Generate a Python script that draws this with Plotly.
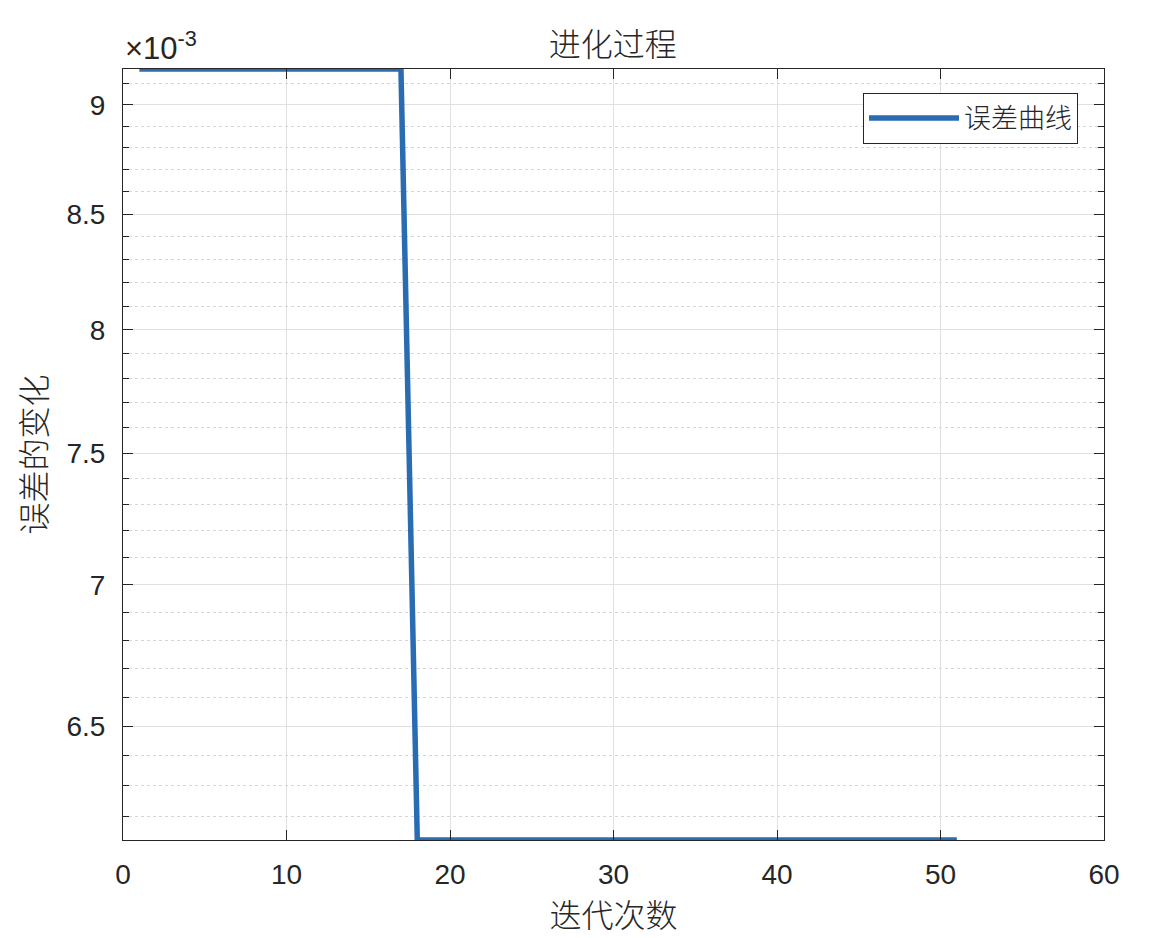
import math
import plotly.graph_objects as go

# iterations 1..51, error value
iterations = list(range(1, 52))
error_high = 9.171e-3   # plateau for iterations 1-17
error_low = 6.124e-3    # plateau for iterations 18-51
errors = [error_high] * 17 + [error_low] * 34

y_major = [6.5e-3, 7e-3, 7.5e-3, 8e-3, 8.5e-3, 9e-3]
y_major_text = ["6.5", "7", "7.5", "8", "8.5", "9"]
y_minor = [v * 1e-4 for v in range(62, 92) if v % 5 != 0]
x_ticks = [0, 10, 20, 30, 40, 50, 60]

cjk = "Noto Sans CJK SC"
num_font = "Liberation Sans, Arial, sans-serif"
txt_col = "#262626"
axis_col = "#262626"
grid_col = "#e0e0e0"

fig = go.Figure()
fig.add_trace(go.Scatter(
    x=iterations, y=errors, mode="lines", name="误差曲线",
    line=dict(color="#2a6cb2", width=5.5), cliponaxis=False,
))

# page body has an 8px margin, so margins are shifted by 8
fig.update_layout(
    width=1154, height=938,
    paper_bgcolor="white", plot_bgcolor="white",
    margin=dict(l=115, r=58, t=61, b=106),
    title=dict(text="进化过程", x=0.524, xanchor="center", y=0.9606, yanchor="middle",
               font=dict(family=cjk, size=32, color=txt_col, weight=300)),
    showlegend=True,
    legend=dict(x=0.9735, y=0.969, xanchor="right", yanchor="top",
                bgcolor="white", bordercolor=axis_col, borderwidth=1,
                font=dict(family=cjk, size=27, color=txt_col, weight=300),
                itemwidth=90, tracegroupgap=0),
)

fig.update_xaxes(
    range=[0, 60], tickvals=x_ticks,
    showline=True, linecolor=axis_col, linewidth=1, mirror="allticks",
    ticks="inside", ticklen=10, tickcolor=axis_col,
    showgrid=True, gridcolor=grid_col, gridwidth=1, zeroline=False,
    tickfont=dict(family=num_font, size=28, color=txt_col),
    ticklabelstandoff=9,
    title=dict(text="迭代次数", font=dict(family=cjk, size=32, color=txt_col, weight=300),
               standoff=12),
)

fig.update_yaxes(
    type="log",
    range=[math.log10(error_low), math.log10(error_high)],
    tickmode="array", tickvals=y_major, ticktext=y_major_text,
    showline=True, linecolor=axis_col, linewidth=1, mirror="allticks",
    ticks="inside", ticklen=10, tickcolor=axis_col,
    showgrid=True, gridcolor=grid_col, gridwidth=1, zeroline=False,
    tickfont=dict(family=num_font, size=28, color=txt_col),
    ticklabelstandoff=11,
    minor=dict(tickmode="array", tickvals=y_minor, ticks="inside", ticklen=6,
               tickcolor=axis_col, showgrid=True, gridcolor="#d6d6d6",
               griddash="dot", gridwidth=1),
    title=dict(text="误差的变化", font=dict(family=cjk, size=32, color=txt_col, weight=300),
               standoff=10),
)

fig.add_annotation(
    text="×10<sup>-3</sup>", xref="paper", yref="paper", x=0.0, y=1.0,
    xanchor="left", yanchor="bottom", showarrow=False, yshift=1,
    font=dict(family=num_font, size=31, color=txt_col),
)

fig.write_html("out.html")
